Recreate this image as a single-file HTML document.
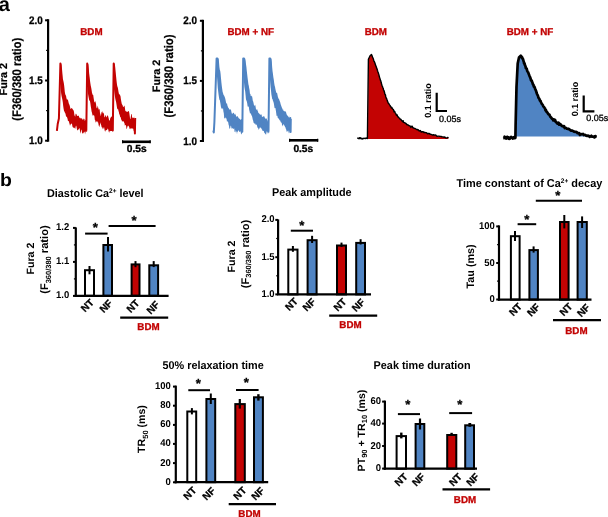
<!DOCTYPE html>
<html><head><meta charset="utf-8"><title>Figure</title>
<style>
html,body{margin:0;padding:0;background:#fff;}
body{width:608px;height:517px;overflow:hidden;}
svg{display:block;}
text{font-family:'Liberation Sans', Arial, sans-serif;text-rendering:geometricPrecision;}
</style></head><body>
<svg width="608" height="517" viewBox="0 0 608 517">
<rect width="608" height="517" fill="#fff"/>
<text x="-1.3" y="11.2" font-size="20" text-anchor="start" fill="#000" font-weight="bold">a</text>
<text transform="translate(-0.1,186) scale(1.08,1.0)" font-size="18" text-anchor="start" fill="#000" font-weight="bold">b</text>
<line x1="48.1" y1="19.2" x2="48.1" y2="141.7" stroke="#000" stroke-width="2.2" stroke-linecap="butt"/>
<line x1="45.1" y1="20.3" x2="48.1" y2="20.3" stroke="#000" stroke-width="2" stroke-linecap="butt"/>
<text transform="translate(42.7,23.8) scale(1.0,1.1)" font-size="9.9" text-anchor="end" fill="#000" font-weight="bold" stroke="#000" stroke-width="0.25">2.0</text>
<line x1="45.1" y1="80.5" x2="48.1" y2="80.5" stroke="#000" stroke-width="2" stroke-linecap="butt"/>
<text transform="translate(42.7,84.0) scale(1.0,1.1)" font-size="9.9" text-anchor="end" fill="#000" font-weight="bold" stroke="#000" stroke-width="0.25">1.5</text>
<line x1="45.1" y1="140.7" x2="48.1" y2="140.7" stroke="#000" stroke-width="2" stroke-linecap="butt"/>
<text transform="translate(42.7,144.2) scale(1.0,1.1)" font-size="9.9" text-anchor="end" fill="#000" font-weight="bold" stroke="#000" stroke-width="0.25">1.0</text>
<line x1="46.1" y1="50.4" x2="48.1" y2="50.4" stroke="#000" stroke-width="1.2" stroke-linecap="butt"/>
<line x1="46.1" y1="110.6" x2="48.1" y2="110.6" stroke="#000" stroke-width="1.2" stroke-linecap="butt"/>
<text transform="translate(4.2,79.2) rotate(-90)" font-size="10.8" text-anchor="middle" dominant-baseline="central" fill="#000" font-weight="bold" stroke="#000" stroke-width="0.2">Fura 2</text>
<text transform="translate(18.0,79.2) rotate(-90) scale(1,1.1)" font-size="11.3" text-anchor="middle" dominant-baseline="central" fill="#000" font-weight="bold" stroke="#000" stroke-width="0.2">(F360/380 ratio)</text>
<line x1="202.9" y1="19.8" x2="202.9" y2="142.0" stroke="#000" stroke-width="2.2" stroke-linecap="butt"/>
<line x1="199.9" y1="20.8" x2="202.9" y2="20.8" stroke="#000" stroke-width="2" stroke-linecap="butt"/>
<text transform="translate(197,24.3) scale(1.0,1.1)" font-size="9.9" text-anchor="end" fill="#000" font-weight="bold" stroke="#000" stroke-width="0.25">2.0</text>
<line x1="199.9" y1="80.9" x2="202.9" y2="80.9" stroke="#000" stroke-width="2" stroke-linecap="butt"/>
<text transform="translate(197,84.4) scale(1.0,1.1)" font-size="9.9" text-anchor="end" fill="#000" font-weight="bold" stroke="#000" stroke-width="0.25">1.5</text>
<line x1="199.9" y1="141.0" x2="202.9" y2="141.0" stroke="#000" stroke-width="2" stroke-linecap="butt"/>
<text transform="translate(197,144.5) scale(1.0,1.1)" font-size="9.9" text-anchor="end" fill="#000" font-weight="bold" stroke="#000" stroke-width="0.25">1.0</text>
<line x1="200.9" y1="50.85" x2="202.9" y2="50.85" stroke="#000" stroke-width="1.2" stroke-linecap="butt"/>
<line x1="200.9" y1="110.95" x2="202.9" y2="110.95" stroke="#000" stroke-width="1.2" stroke-linecap="butt"/>
<text transform="translate(157.2,76.0) rotate(-90)" font-size="10.8" text-anchor="middle" dominant-baseline="central" fill="#000" font-weight="bold" stroke="#000" stroke-width="0.2">Fura 2</text>
<text transform="translate(170.0,76.0) rotate(-90) scale(1,1.1)" font-size="11.3" text-anchor="middle" dominant-baseline="central" fill="#000" font-weight="bold" stroke="#000" stroke-width="0.2">(F360/380 ratio)</text>
<text x="91.45" y="34.7" font-size="9.8" text-anchor="middle" fill="#c30303" font-weight="bold" stroke="#c00000" stroke-width="0.3">BDM</text>
<text x="250.7" y="34.9" font-size="9.8" text-anchor="middle" fill="#c30303" font-weight="bold" stroke="#c00000" stroke-width="0.3">BDM + NF</text>
<text x="375.8" y="34.7" font-size="9.8" text-anchor="middle" fill="#c30303" font-weight="bold" stroke="#c00000" stroke-width="0.3">BDM</text>
<text x="530" y="34.7" font-size="9.8" text-anchor="middle" fill="#c30303" font-weight="bold" stroke="#c00000" stroke-width="0.3">BDM + NF</text>
<line x1="122" y1="141.8" x2="150.7" y2="141.8" stroke="#000" stroke-width="2.6" stroke-linecap="butt"/>
<line x1="122.6" y1="140.3" x2="122.6" y2="143.3" stroke="#000" stroke-width="1.2" stroke-linecap="butt"/>
<line x1="150.1" y1="140.3" x2="150.1" y2="143.3" stroke="#000" stroke-width="1.2" stroke-linecap="butt"/>
<line x1="289" y1="140.3" x2="318.2" y2="140.3" stroke="#000" stroke-width="2.6" stroke-linecap="butt"/>
<line x1="289.6" y1="138.8" x2="289.6" y2="141.8" stroke="#000" stroke-width="1.2" stroke-linecap="butt"/>
<line x1="317.59999999999997" y1="138.8" x2="317.59999999999997" y2="141.8" stroke="#000" stroke-width="1.2" stroke-linecap="butt"/>
<text x="136.7" y="151.5" font-size="10.2" text-anchor="middle" fill="#000" font-weight="bold" stroke="#000" stroke-width="0.35">0.5s</text>
<text x="303.3" y="151.5" font-size="10.2" text-anchor="middle" fill="#000" font-weight="bold" stroke="#000" stroke-width="0.35">0.5s</text>
<path d="M436.7 92.8 V111 H447" fill="none" stroke="#000" stroke-width="2.2"/>
<path d="M583.7 95.5 V111.3 H594.4" fill="none" stroke="#000" stroke-width="2.2"/>
<text transform="translate(427.6,100.5) rotate(-90)" font-size="9.0" text-anchor="middle" dominant-baseline="central" fill="#000" font-weight="bold">0.1 ratio</text>
<text transform="translate(575.3,99) rotate(-90)" font-size="9.0" text-anchor="middle" dominant-baseline="central" fill="#000" font-weight="bold">0.1 ratio</text>
<text x="450" y="121.5" font-size="9.0" text-anchor="middle" fill="#000" font-weight="normal" stroke="#000" stroke-width="0.3">0.05s</text>
<text x="597.2" y="121.3" font-size="9.0" text-anchor="middle" fill="#000" font-weight="normal" stroke="#000" stroke-width="0.3">0.05s</text>
<polygon points="60.40,63.60 60.80,63.60 61.20,63.60 61.60,64.98 62.00,68.92 62.40,73.49 62.80,78.45 63.20,80.28 63.60,81.93 64.00,84.22 64.40,87.76 64.80,91.91 65.20,93.97 65.60,95.23 66.00,95.45 66.40,98.10 66.80,99.33 67.20,100.22 67.60,98.64 68.00,100.06 68.40,101.83 68.80,103.42 69.20,104.25 69.60,105.24 70.00,106.86 70.40,108.53 70.80,109.23 71.20,108.08 71.60,108.45 72.00,107.86 72.40,109.68 72.80,108.61 73.20,110.21 73.60,110.25 74.00,112.00 74.40,114.92 74.80,115.89 75.20,116.76 75.60,113.67 76.00,113.85 76.40,114.05 76.80,115.29 77.20,116.09 77.60,115.95 78.00,115.54 78.40,115.94 78.80,115.49 79.20,117.87 79.60,117.28 80.00,118.61 80.40,117.40 80.80,118.67 81.20,117.88 81.60,118.78 82.00,118.13 82.40,119.67 82.80,119.52 83.20,119.85 83.60,118.44 84.00,118.66 84.40,119.01 84.80,120.93 85.20,120.17 85.60,120.32 86.00,119.59 86.00,134.47 85.60,132.79 85.20,130.94 84.80,131.83 84.40,132.09 84.00,133.92 83.60,132.35 83.20,132.86 82.80,133.56 82.40,133.55 82.00,132.57 81.60,129.57 81.20,130.11 80.80,132.30 80.40,133.64 80.00,130.63 79.60,128.39 79.20,128.10 78.80,129.95 78.40,129.05 78.00,129.63 77.60,129.88 77.20,130.73 76.80,128.42 76.40,126.22 76.00,125.52 75.60,126.98 75.20,128.90 74.80,128.21 74.40,128.10 74.00,127.15 73.60,128.06 73.20,127.48 72.80,127.36 72.40,126.25 72.00,124.12 71.60,123.44 71.20,123.69 70.80,124.07 70.40,124.93 70.00,125.78 69.60,124.05 69.20,122.63 68.80,120.70 68.40,121.14 68.00,121.29 67.60,119.05 67.20,117.70 66.80,116.62 66.40,116.89 66.00,116.29 65.60,114.28 65.20,113.12 64.80,112.62 64.40,111.54 64.00,110.75 63.60,108.84 63.20,105.94 62.80,102.26 62.40,99.75 62.00,98.09 61.60,96.25 61.20,93.71 60.80,90.08 60.40,85.00" fill="#c30303"/>
<polygon points="87.20,63.60 87.60,63.60 88.00,63.60 88.40,64.62 88.80,68.95 89.20,73.76 89.60,77.11 90.00,80.79 90.40,83.39 90.80,85.97 91.20,87.74 91.60,90.04 92.00,92.78 92.40,94.03 92.80,95.10 93.20,94.90 93.60,97.83 94.00,100.37 94.40,102.46 94.80,102.03 95.20,101.08 95.60,102.34 96.00,103.80 96.40,107.26 96.80,108.16 97.20,108.22 97.60,105.50 98.00,107.08 98.40,108.48 98.80,109.74 99.20,109.41 99.60,108.63 100.00,112.98 100.40,114.19 100.80,116.30 101.20,114.00 101.60,111.98 102.00,111.86 102.40,111.20 102.80,113.61 103.20,112.44 103.60,113.24 104.00,114.01 104.40,117.13 104.80,117.20 105.20,115.39 105.60,115.05 106.00,116.80 106.40,117.43 106.80,116.45 107.20,115.48 107.60,115.51 108.00,115.69 108.40,117.31 108.80,118.87 109.20,121.06 109.60,120.20 110.00,119.70 110.40,117.55 110.80,117.63 111.20,116.86 111.60,116.36 112.00,117.07 112.40,119.23 112.50,121.66 112.50,129.41 112.40,130.27 112.00,131.04 111.60,131.06 111.20,131.08 110.80,130.89 110.40,131.17 110.00,130.84 109.60,131.15 109.20,132.64 108.80,131.93 108.40,130.30 108.00,128.49 107.60,128.74 107.20,129.85 106.80,130.09 106.40,130.31 106.00,129.88 105.60,130.54 105.20,131.66 104.80,130.93 104.40,129.11 104.00,126.71 103.60,128.00 103.20,128.67 102.80,129.33 102.40,127.56 102.00,127.60 101.60,127.01 101.20,125.33 100.80,123.99 100.40,122.32 100.00,124.83 99.60,125.69 99.20,127.35 98.80,125.68 98.40,123.82 98.00,122.11 97.60,122.57 97.20,120.90 96.80,121.54 96.40,121.17 96.00,122.57 95.60,122.35 95.20,120.18 94.80,119.76 94.40,116.15 94.00,115.17 93.60,114.65 93.20,115.84 92.80,115.66 92.40,114.74 92.00,112.67 91.60,111.41 91.20,108.87 90.80,106.60 90.40,103.52 90.00,101.19 89.60,100.66 89.20,100.09 88.80,98.28 88.40,96.20 88.00,93.76 87.60,90.24 87.20,85.00" fill="#c30303"/>
<polygon points="113.70,63.60 114.10,63.60 114.50,63.60 114.90,64.84 115.30,68.01 115.70,73.05 116.10,76.47 116.50,80.46 116.90,83.97 117.30,86.37 117.70,87.33 118.10,89.21 118.50,91.85 118.90,93.71 119.30,94.52 119.70,94.35 120.10,95.18 120.50,96.28 120.90,99.25 121.30,101.48 121.70,103.41 122.10,104.69 122.50,104.87 122.90,106.51 123.30,106.86 123.70,106.99 124.10,106.01 124.50,105.42 124.90,107.93 125.30,110.70 125.70,111.07 126.10,111.74 126.50,111.02 126.90,112.15 127.30,111.42 127.70,111.92 128.10,111.27 128.50,111.33 128.90,111.03 129.30,113.12 129.70,115.77 130.10,119.07 130.50,118.75 130.90,116.17 131.30,114.09 131.70,113.89 132.10,116.91 132.50,117.87 132.90,118.24 133.30,117.65 133.70,117.82 134.10,117.33 134.20,115.45 134.20,131.12 134.10,131.39 133.70,130.93 133.30,128.64 132.90,128.59 132.50,128.91 132.10,128.12 131.70,128.95 131.30,127.91 130.90,128.43 130.50,128.33 130.10,129.23 129.70,129.03 129.30,127.56 128.90,126.44 128.50,126.07 128.10,125.49 127.70,125.96 127.30,126.90 126.90,128.66 126.50,128.93 126.10,126.02 125.70,125.03 125.30,124.94 124.90,125.67 124.50,123.24 124.10,122.56 123.70,121.53 123.30,121.20 122.90,121.31 122.50,121.10 122.10,122.10 121.70,120.23 121.30,119.68 120.90,118.18 120.50,116.80 120.10,116.93 119.70,114.51 119.30,114.51 118.90,112.33 118.50,110.91 118.10,109.35 117.70,108.47 117.30,109.70 116.90,107.06 116.50,104.62 116.10,101.94 115.70,100.47 115.30,98.73 114.90,96.26 114.50,93.54 114.10,89.88 113.70,85.00" fill="#c30303"/>
<polyline points="56.90,130.90 57.70,124.00 58.90,118.50 60.40,63.60 60.80,71.12 61.20,76.90 61.60,81.47 62.00,85.18 62.40,88.29 62.80,90.96 63.20,93.30 63.60,95.39 64.00,97.28 64.40,99.01 64.80,100.61 65.20,102.10 65.60,103.49 66.00,104.79 66.40,106.01 66.80,107.16 67.20,108.24 67.60,109.26 68.00,110.22 68.40,111.12 68.80,111.98 69.20,112.79 69.60,113.55 70.00,114.27 70.40,114.95 70.80,115.59 71.20,116.20 71.60,116.77 72.00,117.31 72.40,117.82 72.80,118.30 73.20,118.76 73.60,119.19 74.00,119.59 74.40,119.98 74.80,120.34 75.20,120.68 75.60,121.00 76.00,121.31 76.40,121.60 76.80,121.87 77.20,122.13 77.60,122.37 78.00,122.60 78.40,122.82 78.80,123.02 79.20,123.21 79.60,123.40 80.00,123.57 80.40,123.73 80.80,123.89 81.20,124.03 81.60,124.17 82.00,124.30 82.40,124.42 82.80,124.54 83.20,124.64 83.60,124.75 84.00,124.84 84.40,124.94 84.80,125.02 85.20,125.11 85.60,125.18 86.00,125.26 86.30,130.66 87.20,63.60 87.60,71.12 88.00,76.90 88.40,81.47 88.80,85.18 89.20,88.29 89.60,90.96 90.00,93.30 90.40,95.39 90.80,97.28 91.20,99.01 91.60,100.61 92.00,102.10 92.40,103.49 92.80,104.79 93.20,106.01 93.60,107.16 94.00,108.24 94.40,109.26 94.80,110.22 95.20,111.12 95.60,111.98 96.00,112.79 96.40,113.55 96.80,114.27 97.20,114.95 97.60,115.59 98.00,116.20 98.40,116.77 98.80,117.31 99.20,117.82 99.60,118.30 100.00,118.76 100.40,119.19 100.80,119.59 101.20,119.98 101.60,120.34 102.00,120.68 102.40,121.00 102.80,121.31 103.20,121.60 103.60,121.87 104.00,122.13 104.40,122.37 104.80,122.60 105.20,122.82 105.60,123.02 106.00,123.21 106.40,123.40 106.80,123.57 107.20,123.73 107.60,123.89 108.00,124.03 108.40,124.17 108.80,124.30 109.20,124.42 109.60,124.54 110.00,124.64 110.40,124.75 110.80,124.84 111.20,124.94 111.60,125.02 112.00,125.11 112.40,125.18 112.50,125.20 112.80,130.60 113.70,63.60 114.10,71.12 114.50,76.90 114.90,81.47 115.30,85.18 115.70,88.29 116.10,90.96 116.50,93.30 116.90,95.39 117.30,97.28 117.70,99.01 118.10,100.61 118.50,102.10 118.90,103.49 119.30,104.79 119.70,106.01 120.10,107.16 120.50,108.24 120.90,109.26 121.30,110.22 121.70,111.12 122.10,111.98 122.50,112.79 122.90,113.55 123.30,114.27 123.70,114.95 124.10,115.59 124.50,116.20 124.90,116.77 125.30,117.31 125.70,117.82 126.10,118.30 126.50,118.76 126.90,119.19 127.30,119.59 127.70,119.98 128.10,120.34 128.50,120.68 128.90,121.00 129.30,121.31 129.70,121.60 130.10,121.87 130.50,122.13 130.90,122.37 131.30,122.60 131.70,122.82 132.10,123.02 132.50,123.21 132.90,123.40 133.30,123.57 133.70,123.73 134.10,123.89 134.20,123.92 134.60,120.00 134.90,133.50 135.20,118.00" fill="none" stroke="#c30303" stroke-width="2" stroke-linejoin="round"/>
<polygon points="216.60,58.60 217.00,58.60 217.40,58.60 217.80,58.60 218.20,58.60 218.60,58.60 219.00,62.02 219.40,67.11 219.80,70.11 220.20,70.75 220.60,73.76 221.00,78.20 221.40,82.49 221.80,86.07 222.20,89.08 222.60,91.67 223.00,93.12 223.40,94.42 223.80,95.22 224.20,95.80 224.60,96.83 225.00,97.71 225.40,99.23 225.80,101.31 226.20,102.98 226.60,103.84 227.00,103.28 227.40,105.43 227.80,106.53 228.20,108.01 228.60,107.53 229.00,108.89 229.40,109.52 229.80,109.39 230.20,109.32 230.60,109.39 231.00,110.09 231.40,111.63 231.80,113.47 232.20,113.58 232.60,113.88 233.00,112.43 233.40,113.02 233.80,112.85 234.20,114.08 234.60,114.65 235.00,113.21 235.40,114.53 235.80,114.98 236.20,116.79 236.60,116.55 237.00,116.58 237.40,116.25 237.80,116.35 238.20,117.37 238.60,118.05 239.00,118.53 239.40,118.70 239.80,118.67 240.20,119.55 240.60,119.64 241.00,119.81 241.40,118.98 241.80,119.02 242.00,120.06 242.00,132.84 241.80,133.79 241.40,134.58 241.00,133.83 240.60,131.87 240.20,131.18 239.80,132.10 239.40,131.92 239.00,130.97 238.60,130.84 238.20,129.93 237.80,131.93 237.40,131.52 237.00,134.30 236.60,131.65 236.20,131.49 235.80,129.99 235.40,132.26 235.00,132.16 234.60,131.67 234.20,128.16 233.80,129.07 233.40,128.73 233.00,128.54 232.60,127.77 232.20,128.63 231.80,128.65 231.40,127.66 231.00,125.72 230.60,125.63 230.20,128.23 229.80,128.23 229.40,129.18 229.00,125.71 228.60,124.86 228.20,122.36 227.80,121.73 227.40,121.10 227.00,121.85 226.60,119.15 226.20,118.35 225.80,117.29 225.40,117.96 225.00,118.76 224.60,118.37 224.20,118.00 223.80,113.17 223.40,111.44 223.00,107.91 222.60,109.47 222.20,108.05 221.80,109.12 221.40,107.90 221.00,107.21 220.60,104.61 220.20,102.14 219.80,99.93 219.40,99.63 219.00,97.48 218.60,94.68 218.20,91.39 217.80,88.03 217.40,82.34 217.00,76.20 216.60,68.49" fill="#5084c3"/>
<polygon points="243.20,58.60 243.60,58.60 244.00,58.60 244.40,58.60 244.80,58.60 245.20,58.60 245.60,60.85 246.00,64.23 246.40,67.08 246.80,71.12 247.20,74.57 247.60,78.00 248.00,80.97 248.40,84.17 248.80,85.74 249.20,88.26 249.60,90.27 250.00,94.01 250.40,93.65 250.80,96.32 251.20,95.62 251.60,96.41 252.00,96.05 252.40,97.98 252.80,100.63 253.20,101.59 253.60,103.37 254.00,105.14 254.40,105.99 254.80,105.32 255.20,104.83 255.60,106.73 256.00,109.14 256.40,109.88 256.80,109.18 257.20,109.18 257.60,110.78 258.00,111.56 258.40,113.11 258.80,113.07 259.20,114.32 259.60,113.33 260.00,114.63 260.40,114.87 260.80,114.61 261.20,114.58 261.60,114.59 262.00,116.89 262.40,116.72 262.80,116.87 263.20,116.48 263.60,116.26 264.00,116.37 264.40,116.51 264.80,117.76 265.20,118.67 265.60,118.80 266.00,117.95 266.40,118.53 266.80,118.99 267.20,120.31 267.60,120.32 268.00,121.90 268.20,122.86 268.20,133.40 268.00,133.98 267.60,132.56 267.20,131.47 266.80,131.37 266.40,132.64 266.00,135.15 265.60,133.71 265.20,134.05 264.80,132.98 264.40,133.18 264.00,131.50 263.60,130.86 263.20,131.05 262.80,130.68 262.40,130.74 262.00,129.24 261.60,129.19 261.20,127.98 260.80,127.54 260.40,127.89 260.00,127.11 259.60,128.29 259.20,128.63 258.80,130.10 258.40,128.64 258.00,127.98 257.60,127.82 257.20,126.52 256.80,125.01 256.40,124.48 256.00,124.64 255.60,124.79 255.20,123.43 254.80,123.50 254.40,123.70 254.00,122.95 253.60,122.70 253.20,120.76 252.80,119.84 252.40,117.80 252.00,116.37 251.60,115.40 251.20,114.55 250.80,113.98 250.40,112.84 250.00,113.52 249.60,111.59 249.20,109.98 248.80,106.78 248.40,106.60 248.00,106.79 247.60,106.26 247.20,103.31 246.80,101.51 246.40,100.44 246.00,99.56 245.60,95.49 245.20,91.55 244.80,89.49 244.40,87.06 244.00,82.50 243.60,76.00 243.20,68.49" fill="#5084c3"/>
<polygon points="269.40,58.60 269.80,58.60 270.20,58.60 270.60,58.60 271.00,58.60 271.40,58.60 271.80,61.78 272.20,67.44 272.60,71.75 273.00,74.60 273.40,77.48 273.80,79.72 274.20,83.07 274.60,85.60 275.00,86.67 275.40,88.93 275.80,90.75 276.20,92.41 276.60,92.88 277.00,92.60 277.40,94.61 277.80,96.39 278.20,97.87 278.60,98.69 279.00,98.90 279.40,100.31 279.80,101.33 280.20,102.14 280.60,104.01 281.00,105.30 281.40,106.31 281.80,107.41 282.20,107.88 282.60,109.89 283.00,108.87 283.40,111.00 283.80,110.59 284.20,111.38 284.60,111.18 285.00,111.02 285.40,111.42 285.80,111.75 286.20,112.84 286.60,114.38 287.00,114.71 287.40,115.65 287.80,115.81 288.20,116.58 288.60,116.72 289.00,117.76 289.40,118.23 289.80,117.03 290.00,114.85 290.00,129.96 289.80,131.08 289.40,132.38 289.00,133.40 288.60,132.34 288.20,130.58 287.80,130.79 287.40,131.30 287.00,132.18 286.60,131.32 286.20,129.38 285.80,128.79 285.40,127.29 285.00,127.07 284.60,125.48 284.20,125.54 283.80,125.32 283.40,123.68 283.00,124.83 282.60,125.61 282.20,126.62 281.80,123.15 281.40,122.54 281.00,122.55 280.60,121.83 280.20,120.57 279.80,120.34 279.40,120.24 279.00,118.41 278.60,118.84 278.20,118.16 277.80,117.97 277.40,115.93 277.00,115.40 276.60,116.13 276.20,112.99 275.80,110.32 275.40,108.02 275.00,108.06 274.60,108.15 274.20,105.64 273.80,103.20 273.40,101.82 273.00,100.89 272.60,99.34 272.20,99.11 271.80,96.84 271.40,94.50 271.00,90.50 270.60,86.97 270.20,82.48 269.80,76.05 269.40,68.49" fill="#5084c3"/>
<polyline points="213.30,130.60 213.80,132.50 214.40,122.00 216.60,58.60 217.00,58.60 217.40,58.60 217.80,64.56 218.20,70.86 218.60,75.83 219.00,79.86 219.40,83.23 219.80,86.12 220.20,88.66 220.60,90.93 221.00,93.00 221.40,94.90 221.80,96.66 222.20,98.31 222.60,99.86 223.00,101.32 223.40,102.69 223.80,103.99 224.20,105.23 224.60,106.39 225.00,107.50 225.40,108.56 225.80,109.55 226.20,110.50 226.60,111.40 227.00,112.26 227.40,113.07 227.80,113.84 228.20,114.57 228.60,115.27 229.00,115.93 229.40,116.56 229.80,117.16 230.20,117.72 230.60,118.26 231.00,118.77 231.40,119.26 231.80,119.72 232.20,120.16 232.60,120.58 233.00,120.97 233.40,121.35 233.80,121.71 234.20,122.05 234.60,122.37 235.00,122.68 235.40,122.97 235.80,123.24 236.20,123.51 236.60,123.76 237.00,123.99 237.40,124.22 237.80,124.43 238.20,124.64 238.60,124.83 239.00,125.01 239.40,125.19 239.80,125.35 240.20,125.51 240.60,125.66 241.00,125.80 241.40,125.94 241.80,126.06 242.00,126.13 242.30,131.80 243.20,58.60 243.60,58.60 244.00,58.60 244.40,64.56 244.80,70.86 245.20,75.83 245.60,79.86 246.00,83.23 246.40,86.12 246.80,88.66 247.20,90.93 247.60,93.00 248.00,94.90 248.40,96.66 248.80,98.31 249.20,99.86 249.60,101.32 250.00,102.69 250.40,103.99 250.80,105.23 251.20,106.39 251.60,107.50 252.00,108.56 252.40,109.55 252.80,110.50 253.20,111.40 253.60,112.26 254.00,113.07 254.40,113.84 254.80,114.57 255.20,115.27 255.60,115.93 256.00,116.56 256.40,117.16 256.80,117.72 257.20,118.26 257.60,118.77 258.00,119.26 258.40,119.72 258.80,120.16 259.20,120.58 259.60,120.97 260.00,121.35 260.40,121.71 260.80,122.05 261.20,122.37 261.60,122.68 262.00,122.97 262.40,123.24 262.80,123.51 263.20,123.76 263.60,123.99 264.00,124.22 264.40,124.43 264.80,124.64 265.20,124.83 265.60,125.01 266.00,125.19 266.40,125.35 266.80,125.51 267.20,125.66 267.60,125.80 268.00,125.94 268.20,126.00 268.50,131.67 269.40,58.60 269.80,58.60 270.20,58.60 270.60,64.56 271.00,70.86 271.40,75.83 271.80,79.86 272.20,83.23 272.60,86.12 273.00,88.66 273.40,90.93 273.80,93.00 274.20,94.90 274.60,96.66 275.00,98.31 275.40,99.86 275.80,101.32 276.20,102.69 276.60,103.99 277.00,105.23 277.40,106.39 277.80,107.50 278.20,108.56 278.60,109.55 279.00,110.50 279.40,111.40 279.80,112.26 280.20,113.07 280.60,113.84 281.00,114.57 281.40,115.27 281.80,115.93 282.20,116.56 282.60,117.16 283.00,117.72 283.40,118.26 283.80,118.77 284.20,119.26 284.60,119.72 285.00,120.16 285.40,120.58 285.80,120.97 286.20,121.35 286.60,121.71 287.00,122.05 287.40,122.37 287.80,122.68 288.20,122.97 288.60,123.24 289.00,123.51 289.40,123.76 289.80,123.99 290.00,124.11 290.30,118.00 290.60,132.00 290.80,119.00" fill="none" stroke="#5084c3" stroke-width="2" stroke-linejoin="round"/>
<polygon points="368.40,59.30 370.20,55.50 371.50,54.43 371.76,55.49 372.09,55.56 372.49,57.22 372.93,57.89 373.41,59.08 373.90,61.10 374.40,61.78 374.90,63.00 375.37,64.54 375.80,65.89 376.21,66.68 376.61,68.10 377.00,68.79 377.39,70.24 377.78,71.47 378.16,72.42 378.54,73.62 378.93,74.84 379.31,76.57 379.70,77.84 380.09,79.02 380.47,80.39 380.85,81.13 381.23,82.79 381.61,84.13 381.99,85.54 382.38,86.21 382.78,87.60 383.18,88.26 383.60,90.02 384.03,90.69 384.47,92.26 384.93,94.47 385.38,94.64 385.85,97.01 386.32,98.14 386.79,99.16 387.26,100.62 387.73,101.76 388.20,102.97 388.66,103.43 389.11,104.12 389.56,104.85 390.01,105.39 390.46,106.35 390.92,106.70 391.39,107.96 391.88,107.56 392.38,108.49 392.90,109.27 393.45,109.65 394.02,111.88 394.60,111.23 395.21,112.85 395.82,113.64 396.44,115.27 397.06,114.84 397.68,116.72 398.29,116.85 398.90,117.75 399.50,118.20 400.10,119.25 400.70,119.17 401.30,120.06 401.91,120.69 402.51,121.68 403.11,120.64 403.71,122.46 404.30,122.69 404.90,122.63 405.49,123.35 406.07,123.50 406.65,124.66 407.22,124.56 407.79,124.80 408.37,125.18 408.96,125.56 409.56,125.93 410.17,126.04 410.80,127.42 411.45,126.37 412.12,126.10 412.80,127.63 413.49,127.92 414.19,128.39 414.89,128.48 415.60,128.78 416.30,129.24 417.01,129.75 417.70,129.54 418.39,129.87 419.06,130.98 419.74,130.79 420.41,130.57 421.09,132.03 421.77,131.78 422.46,131.59 423.16,131.67 423.87,132.45 424.60,132.31 425.35,132.47 426.12,132.60 426.90,133.09 427.69,133.85 428.49,133.50 429.29,133.34 430.10,134.26 430.90,134.24 431.71,134.70 432.50,135.02 433.29,134.74 434.08,134.95 434.87,135.19 435.66,135.02 436.45,135.85 437.24,136.30 438.03,136.08 438.82,136.14 439.61,136.32 440.40,136.33 441.23,136.51 442.11,136.85 443.02,136.89 443.94,137.23 444.84,137.02 445.71,137.88 446.51,137.94 447.23,137.67 447.83,137.40 448.30,138.30 448.30,139.00 368.00,139.00" fill="#c30303"/>
<polyline points="357.20,138.50 357.80,138.09 358.40,138.10 359.00,138.73 359.60,137.70 360.20,138.45 360.80,137.71 361.40,138.89 362.00,138.57 362.60,138.97 363.20,138.32 363.80,138.64 364.40,138.40 365.00,138.24 365.60,138.55 366.20,138.06 366.80,138.38 367.40,138.60 368.40,59.30 370.20,55.50 371.50,54.43 371.76,55.49 372.09,55.56 372.49,57.22 372.93,57.89 373.41,59.08 373.90,61.10 374.40,61.78 374.90,63.00 375.37,64.54 375.80,65.89 376.21,66.68 376.61,68.10 377.00,68.79 377.39,70.24 377.78,71.47 378.16,72.42 378.54,73.62 378.93,74.84 379.31,76.57 379.70,77.84 380.09,79.02 380.47,80.39 380.85,81.13 381.23,82.79 381.61,84.13 381.99,85.54 382.38,86.21 382.78,87.60 383.18,88.26 383.60,90.02 384.03,90.69 384.47,92.26 384.93,94.47 385.38,94.64 385.85,97.01 386.32,98.14 386.79,99.16 387.26,100.62 387.73,101.76 388.20,102.97 388.66,103.43 389.11,104.12 389.56,104.85 390.01,105.39 390.46,106.35 390.92,106.70 391.39,107.96 391.88,107.56 392.38,108.49 392.90,109.27 393.45,109.65 394.02,111.88 394.60,111.23 395.21,112.85 395.82,113.64 396.44,115.27 397.06,114.84 397.68,116.72 398.29,116.85 398.90,117.75 399.50,118.20 400.10,119.25 400.70,119.17 401.30,120.06 401.91,120.69 402.51,121.68 403.11,120.64 403.71,122.46 404.30,122.69 404.90,122.63 405.49,123.35 406.07,123.50 406.65,124.66 407.22,124.56 407.79,124.80 408.37,125.18 408.96,125.56 409.56,125.93 410.17,126.04 410.80,127.42 411.45,126.37 412.12,126.10 412.80,127.63 413.49,127.92 414.19,128.39 414.89,128.48 415.60,128.78 416.30,129.24 417.01,129.75 417.70,129.54 418.39,129.87 419.06,130.98 419.74,130.79 420.41,130.57 421.09,132.03 421.77,131.78 422.46,131.59 423.16,131.67 423.87,132.45 424.60,132.31 425.35,132.47 426.12,132.60 426.90,133.09 427.69,133.85 428.49,133.50 429.29,133.34 430.10,134.26 430.90,134.24 431.71,134.70 432.50,135.02 433.29,134.74 434.08,134.95 434.87,135.19 435.66,135.02 436.45,135.85 437.24,136.30 438.03,136.08 438.82,136.14 439.61,136.32 440.40,136.33 441.23,136.51 442.11,136.85 443.02,136.89 443.94,137.23 444.84,137.02 445.71,137.88 446.51,137.94 447.23,137.67 447.83,137.40 448.30,138.30" fill="none" stroke="#000" stroke-width="1.4" stroke-linejoin="round"/>
<polygon points="515.60,125.40 516.50,86.70 517.70,63.50 519.00,57.50 520.80,55.62 520.93,56.03 521.09,55.87 521.29,56.54 521.51,57.14 521.74,57.29 521.99,58.23 522.25,57.57 522.51,58.48 522.76,58.65 523.00,59.15 523.23,59.98 523.45,60.76 523.66,61.47 523.88,62.16 524.10,63.62 524.33,63.73 524.59,63.38 524.86,64.98 525.16,65.45 525.50,66.37 525.87,68.12 526.28,68.42 526.72,68.69 527.18,70.79 527.66,71.64 528.15,72.37 528.65,73.63 529.14,74.90 529.63,76.29 530.10,77.21 530.57,78.51 531.04,80.38 531.51,80.28 531.98,81.35 532.45,82.68 532.92,84.37 533.39,84.63 533.86,86.68 534.33,86.53 534.80,87.74 535.26,89.27 535.71,90.00 536.16,91.22 536.60,92.81 537.04,94.04 537.49,94.87 537.95,95.78 538.42,97.59 538.90,98.24 539.40,98.99 539.92,100.68 540.47,100.77 541.03,102.29 541.60,103.54 542.18,104.24 542.76,104.98 543.34,106.37 543.91,106.90 544.46,107.77 545.00,108.44 545.51,110.30 546.01,110.23 546.49,111.73 546.96,112.09 547.43,112.48 547.90,113.55 548.38,114.02 548.87,114.59 549.37,114.54 549.90,115.83 550.44,116.84 551.00,117.29 551.56,118.14 552.14,118.97 552.72,119.08 553.32,120.38 553.92,119.38 554.54,120.52 555.16,120.04 555.80,122.07 556.45,122.25 557.12,123.47 557.80,123.02 558.49,122.74 559.19,124.68 559.89,123.94 560.60,124.40 561.30,125.31 562.01,126.08 562.70,125.97 563.39,126.67 564.06,126.11 564.74,128.09 565.41,127.63 566.09,128.05 566.77,128.59 567.46,128.72 568.16,129.05 568.87,128.86 569.60,129.55 570.35,130.12 571.12,130.70 571.90,130.49 572.69,130.90 573.49,131.31 574.29,131.72 575.10,131.85 575.90,131.93 576.71,132.10 577.50,133.11 578.29,133.00 579.08,133.14 579.87,134.96 580.66,134.04 581.45,134.28 582.24,134.20 583.03,133.91 583.82,135.10 584.61,134.76 585.40,135.02 586.21,135.66 587.07,135.84 587.94,135.68 588.82,135.76 589.69,136.86 590.53,136.33 591.33,135.75 592.07,136.67 592.73,136.50 593.30,136.51 593.78,136.85 594.19,136.66 594.53,137.44 594.81,136.59 595.04,136.56 595.24,136.91 595.40,136.07 595.55,136.73 595.68,136.20 595.80,136.73 595.80,136.40 516.00,136.40" fill="#5084c3"/>
<polyline points="503.60,137.80 504.10,138.10 504.60,136.73 505.10,137.33 505.60,137.84 506.10,138.68 506.60,137.80 507.10,136.80 507.60,137.99 508.10,137.08 508.60,138.54 509.10,137.65 509.60,138.87 510.10,137.72 510.60,137.18 511.10,136.92 511.60,137.58 512.10,138.07 512.60,138.51 513.10,137.96 513.60,137.36 514.10,138.10 514.60,136.94 515.10,138.10 515.40,137.80 515.60,125.40 516.50,86.70 517.70,63.50 519.00,57.50 520.80,55.62 520.93,56.03 521.09,55.87 521.29,56.54 521.51,57.14 521.74,57.29 521.99,58.23 522.25,57.57 522.51,58.48 522.76,58.65 523.00,59.15 523.23,59.98 523.45,60.76 523.66,61.47 523.88,62.16 524.10,63.62 524.33,63.73 524.59,63.38 524.86,64.98 525.16,65.45 525.50,66.37 525.87,68.12 526.28,68.42 526.72,68.69 527.18,70.79 527.66,71.64 528.15,72.37 528.65,73.63 529.14,74.90 529.63,76.29 530.10,77.21 530.57,78.51 531.04,80.38 531.51,80.28 531.98,81.35 532.45,82.68 532.92,84.37 533.39,84.63 533.86,86.68 534.33,86.53 534.80,87.74 535.26,89.27 535.71,90.00 536.16,91.22 536.60,92.81 537.04,94.04 537.49,94.87 537.95,95.78 538.42,97.59 538.90,98.24 539.40,98.99 539.92,100.68 540.47,100.77 541.03,102.29 541.60,103.54 542.18,104.24 542.76,104.98 543.34,106.37 543.91,106.90 544.46,107.77 545.00,108.44 545.51,110.30 546.01,110.23 546.49,111.73 546.96,112.09 547.43,112.48 547.90,113.55 548.38,114.02 548.87,114.59 549.37,114.54 549.90,115.83 550.44,116.84 551.00,117.29 551.56,118.14 552.14,118.97 552.72,119.08 553.32,120.38 553.92,119.38 554.54,120.52 555.16,120.04 555.80,122.07 556.45,122.25 557.12,123.47 557.80,123.02 558.49,122.74 559.19,124.68 559.89,123.94 560.60,124.40 561.30,125.31 562.01,126.08 562.70,125.97 563.39,126.67 564.06,126.11 564.74,128.09 565.41,127.63 566.09,128.05 566.77,128.59 567.46,128.72 568.16,129.05 568.87,128.86 569.60,129.55 570.35,130.12 571.12,130.70 571.90,130.49 572.69,130.90 573.49,131.31 574.29,131.72 575.10,131.85 575.90,131.93 576.71,132.10 577.50,133.11 578.29,133.00 579.08,133.14 579.87,134.96 580.66,134.04 581.45,134.28 582.24,134.20 583.03,133.91 583.82,135.10 584.61,134.76 585.40,135.02 586.21,135.66 587.07,135.84 587.94,135.68 588.82,135.76 589.69,136.86 590.53,136.33 591.33,135.75 592.07,136.67 592.73,136.50 593.30,136.51 593.78,136.85 594.19,136.66 594.53,137.44 594.81,136.59 595.04,136.56 595.24,136.91 595.40,136.07 595.55,136.73 595.68,136.20 595.80,136.73" fill="none" stroke="#000" stroke-width="2.7" stroke-linejoin="round"/>
<text transform="translate(47,196.6) scale(1.0,1.04)" font-size="10.85" text-anchor="start" fill="#000" font-weight="bold">Diastolic Ca<tspan font-size='6.5' dy='-3.8'>2+</tspan><tspan dy='3.8'> level</tspan></text>
<line x1="75.8" y1="227.4" x2="75.8" y2="296.8" stroke="#000" stroke-width="2.2" stroke-linecap="butt"/>
<line x1="73.0" y1="227.9" x2="75.8" y2="227.9" stroke="#000" stroke-width="2" stroke-linecap="butt"/>
<text transform="translate(69.2,230.4) scale(1.0,1.04)" font-size="9.5" text-anchor="end" fill="#000" font-weight="bold">1.2</text>
<line x1="73.0" y1="261.9" x2="75.8" y2="261.9" stroke="#000" stroke-width="2" stroke-linecap="butt"/>
<text transform="translate(69.2,264.4) scale(1.0,1.04)" font-size="9.5" text-anchor="end" fill="#000" font-weight="bold">1.1</text>
<line x1="73.0" y1="295.9" x2="75.8" y2="295.9" stroke="#000" stroke-width="2" stroke-linecap="butt"/>
<text transform="translate(69.2,298.4) scale(1.0,1.04)" font-size="9.5" text-anchor="end" fill="#000" font-weight="bold">1.0</text>
<line x1="73.89999999999999" y1="244.9" x2="75.8" y2="244.9" stroke="#000" stroke-width="1.2" stroke-linecap="butt"/>
<line x1="73.89999999999999" y1="278.9" x2="75.8" y2="278.9" stroke="#000" stroke-width="1.2" stroke-linecap="butt"/>
<rect x="85.00" y="270.20" width="9.00" height="25.60" fill="#fff" stroke="#000" stroke-width="2"/>
<rect x="103.40" y="245.00" width="8.60" height="50.80" fill="#5084c3" stroke="#000" stroke-width="2"/>
<rect x="131.60" y="264.40" width="7.90" height="31.40" fill="#c30303" stroke="#000" stroke-width="2"/>
<rect x="149.30" y="265.30" width="8.80" height="30.50" fill="#5084c3" stroke="#000" stroke-width="2"/>
<line x1="89.5" y1="266" x2="89.5" y2="274.3" stroke="#000" stroke-width="2" stroke-linecap="butt"/>
<line x1="108" y1="237.1" x2="108" y2="251.5" stroke="#000" stroke-width="2" stroke-linecap="butt"/>
<line x1="135.5" y1="261.1" x2="135.5" y2="267.2" stroke="#000" stroke-width="2" stroke-linecap="butt"/>
<line x1="153.7" y1="261.1" x2="153.7" y2="267.1" stroke="#000" stroke-width="2" stroke-linecap="butt"/>
<line x1="74.7" y1="295.8" x2="168.6" y2="295.8" stroke="#000" stroke-width="2.2" stroke-linecap="butt"/>
<line x1="85.1" y1="233.6" x2="107.6" y2="233.6" stroke="#000" stroke-width="2" stroke-linecap="butt"/>
<text x="95.3" y="231.84" font-size="13.2" text-anchor="middle" fill="#000" font-weight="bold" stroke="#000" stroke-width="0.25">*</text>
<line x1="108.6" y1="226" x2="155.6" y2="226" stroke="#000" stroke-width="2" stroke-linecap="butt"/>
<text x="134" y="224.64000000000001" font-size="13.2" text-anchor="middle" fill="#000" font-weight="bold" stroke="#000" stroke-width="0.25">*</text>
<text transform="translate(88.0,306.0) rotate(-45)" font-size="10" text-anchor="middle" dominant-baseline="central" fill="#000" font-weight="bold" stroke="#000" stroke-width="0.3">NT</text>
<text transform="translate(106.6,306.8) rotate(-45)" font-size="10" text-anchor="middle" dominant-baseline="central" fill="#000" font-weight="bold" stroke="#000" stroke-width="0.3">NF</text>
<text transform="translate(133.6,306.7) rotate(-45)" font-size="10" text-anchor="middle" dominant-baseline="central" fill="#000" font-weight="bold" stroke="#000" stroke-width="0.3">NT</text>
<text transform="translate(153.7,308.2) rotate(-45)" font-size="10" text-anchor="middle" dominant-baseline="central" fill="#000" font-weight="bold" stroke="#000" stroke-width="0.3">NF</text>
<line x1="120.2" y1="317.7" x2="168.2" y2="317.7" stroke="#000" stroke-width="2.2" stroke-linecap="butt"/>
<text x="148.5" y="330.2" font-size="9.8" text-anchor="middle" fill="#c30303" font-weight="bold" stroke="#c00000" stroke-width="0.3">BDM</text>
<text transform="translate(31,258.6) rotate(-90)" font-size="10.6" text-anchor="middle" dominant-baseline="central" fill="#000" font-weight="bold">Fura 2</text>
<text transform="translate(45,259.6) rotate(-90)" font-size="11.1" text-anchor="middle" dominant-baseline="central" fill="#000" font-weight="bold">(F<tspan font-size='7.5' dy='2.5'>360/380</tspan><tspan dy='-2.5'> ratio)</tspan></text>
<text transform="translate(272.0,196.4) scale(1.0,1.04)" font-size="10.85" text-anchor="start" fill="#000" font-weight="bold">Peak amplitude</text>
<line x1="278.1" y1="219.4" x2="278.1" y2="295" stroke="#000" stroke-width="2.2" stroke-linecap="butt"/>
<line x1="275.3" y1="219.9" x2="278.1" y2="219.9" stroke="#000" stroke-width="2" stroke-linecap="butt"/>
<text transform="translate(274.6,222.4) scale(1.0,1.04)" font-size="9.5" text-anchor="end" fill="#000" font-weight="bold">2.0</text>
<line x1="275.3" y1="257.2" x2="278.1" y2="257.2" stroke="#000" stroke-width="2" stroke-linecap="butt"/>
<text transform="translate(274.6,259.7) scale(1.0,1.04)" font-size="9.5" text-anchor="end" fill="#000" font-weight="bold">1.5</text>
<line x1="275.3" y1="294.4" x2="278.1" y2="294.4" stroke="#000" stroke-width="2" stroke-linecap="butt"/>
<text transform="translate(274.6,296.9) scale(1.0,1.04)" font-size="9.5" text-anchor="end" fill="#000" font-weight="bold">1.0</text>
<line x1="276.20000000000005" y1="238.5" x2="278.1" y2="238.5" stroke="#000" stroke-width="1.2" stroke-linecap="butt"/>
<line x1="276.20000000000005" y1="275.8" x2="278.1" y2="275.8" stroke="#000" stroke-width="1.2" stroke-linecap="butt"/>
<rect x="288.30" y="249.60" width="9.20" height="44.80" fill="#fff" stroke="#000" stroke-width="2"/>
<rect x="307.60" y="240.20" width="9.00" height="54.20" fill="#5084c3" stroke="#000" stroke-width="2"/>
<rect x="337.00" y="245.50" width="9.00" height="48.90" fill="#c30303" stroke="#000" stroke-width="2"/>
<rect x="356.20" y="242.90" width="8.80" height="51.50" fill="#5084c3" stroke="#000" stroke-width="2"/>
<line x1="292.9" y1="246" x2="292.9" y2="251.8" stroke="#000" stroke-width="2" stroke-linecap="butt"/>
<line x1="312.1" y1="235.8" x2="312.1" y2="243" stroke="#000" stroke-width="2" stroke-linecap="butt"/>
<line x1="341.5" y1="242.6" x2="341.5" y2="247" stroke="#000" stroke-width="2" stroke-linecap="butt"/>
<line x1="360.6" y1="239.2" x2="360.6" y2="244.5" stroke="#000" stroke-width="2" stroke-linecap="butt"/>
<line x1="277.0" y1="294.4" x2="371" y2="294.4" stroke="#000" stroke-width="2.2" stroke-linecap="butt"/>
<line x1="290.8" y1="230.7" x2="313" y2="230.7" stroke="#000" stroke-width="2" stroke-linecap="butt"/>
<text x="301.8" y="229.74" font-size="13.2" text-anchor="middle" fill="#000" font-weight="bold" stroke="#000" stroke-width="0.25">*</text>
<text transform="translate(292.1,304.8) rotate(-45)" font-size="10" text-anchor="middle" dominant-baseline="central" fill="#000" font-weight="bold" stroke="#000" stroke-width="0.3">NT</text>
<text transform="translate(309.8,305.3) rotate(-45)" font-size="10" text-anchor="middle" dominant-baseline="central" fill="#000" font-weight="bold" stroke="#000" stroke-width="0.3">NF</text>
<text transform="translate(340.7,305.3) rotate(-45)" font-size="10" text-anchor="middle" dominant-baseline="central" fill="#000" font-weight="bold" stroke="#000" stroke-width="0.3">NT</text>
<text transform="translate(359.0,305.8) rotate(-45)" font-size="10" text-anchor="middle" dominant-baseline="central" fill="#000" font-weight="bold" stroke="#000" stroke-width="0.3">NF</text>
<line x1="329.2" y1="315.6" x2="377.2" y2="315.6" stroke="#000" stroke-width="2.2" stroke-linecap="butt"/>
<text x="350.5" y="328.4" font-size="9.8" text-anchor="middle" fill="#c30303" font-weight="bold" stroke="#c00000" stroke-width="0.3">BDM</text>
<text transform="translate(232,256.5) rotate(-90)" font-size="10.6" text-anchor="middle" dominant-baseline="central" fill="#000" font-weight="bold">Fura 2</text>
<text transform="translate(245.5,254) rotate(-90)" font-size="11.1" text-anchor="middle" dominant-baseline="central" fill="#000" font-weight="bold">(F<tspan font-size='7.5' dy='2.5'>360/380</tspan><tspan dy='-2.5'> ratio)</tspan></text>
<text transform="translate(456.5,187.3) scale(1.0,1.04)" font-size="10.95" text-anchor="start" fill="#000" font-weight="bold">Time constant of Ca<tspan font-size='6.5' dy='-3.8'>2+</tspan><tspan dy='3.8'> decay</tspan></text>
<line x1="499.0" y1="225.4" x2="499.0" y2="300.6" stroke="#000" stroke-width="2.2" stroke-linecap="butt"/>
<line x1="496.2" y1="226.4" x2="499.0" y2="226.4" stroke="#000" stroke-width="2" stroke-linecap="butt"/>
<text transform="translate(494.8,228.9) scale(1.0,1.04)" font-size="9.5" text-anchor="end" fill="#000" font-weight="bold">100</text>
<line x1="496.2" y1="263" x2="499.0" y2="263" stroke="#000" stroke-width="2" stroke-linecap="butt"/>
<text transform="translate(494.8,265.5) scale(1.0,1.04)" font-size="9.5" text-anchor="end" fill="#000" font-weight="bold">50</text>
<line x1="496.2" y1="299.5" x2="499.0" y2="299.5" stroke="#000" stroke-width="2" stroke-linecap="butt"/>
<text transform="translate(494.8,302.0) scale(1.0,1.04)" font-size="9.5" text-anchor="end" fill="#000" font-weight="bold">0</text>
<line x1="497.1" y1="244.7" x2="499.0" y2="244.7" stroke="#000" stroke-width="1.2" stroke-linecap="butt"/>
<line x1="497.1" y1="281.2" x2="499.0" y2="281.2" stroke="#000" stroke-width="1.2" stroke-linecap="butt"/>
<rect x="510.90" y="236.20" width="8.70" height="63.40" fill="#fff" stroke="#000" stroke-width="2"/>
<rect x="529.40" y="250.10" width="8.50" height="49.50" fill="#5084c3" stroke="#000" stroke-width="2"/>
<rect x="560.00" y="222.00" width="8.60" height="77.60" fill="#c30303" stroke="#000" stroke-width="2"/>
<rect x="577.60" y="222.00" width="9.20" height="77.60" fill="#5084c3" stroke="#000" stroke-width="2"/>
<line x1="515" y1="230.9" x2="515" y2="241" stroke="#000" stroke-width="2" stroke-linecap="butt"/>
<line x1="533.6" y1="246.4" x2="533.6" y2="252.6" stroke="#000" stroke-width="2" stroke-linecap="butt"/>
<line x1="564.3" y1="215" x2="564.3" y2="228.4" stroke="#000" stroke-width="2" stroke-linecap="butt"/>
<line x1="582.1" y1="216.4" x2="582.1" y2="228" stroke="#000" stroke-width="2" stroke-linecap="butt"/>
<line x1="497.9" y1="299.6" x2="591.5" y2="299.6" stroke="#000" stroke-width="2.2" stroke-linecap="butt"/>
<line x1="517.6" y1="224.2" x2="536.2" y2="224.2" stroke="#000" stroke-width="2" stroke-linecap="butt"/>
<text x="526.8" y="223.74" font-size="13.2" text-anchor="middle" fill="#000" font-weight="bold" stroke="#000" stroke-width="0.25">*</text>
<line x1="535.8" y1="200.7" x2="582" y2="200.7" stroke="#000" stroke-width="2" stroke-linecap="butt"/>
<text x="557.8" y="199.74" font-size="13.2" text-anchor="middle" fill="#000" font-weight="bold" stroke="#000" stroke-width="0.25">*</text>
<text transform="translate(516.2,310.0) rotate(-45)" font-size="10" text-anchor="middle" dominant-baseline="central" fill="#000" font-weight="bold" stroke="#000" stroke-width="0.3">NT</text>
<text transform="translate(534.2,310.5) rotate(-45)" font-size="10" text-anchor="middle" dominant-baseline="central" fill="#000" font-weight="bold" stroke="#000" stroke-width="0.3">NF</text>
<text transform="translate(566.7,310.0) rotate(-45)" font-size="10" text-anchor="middle" dominant-baseline="central" fill="#000" font-weight="bold" stroke="#000" stroke-width="0.3">NT</text>
<text transform="translate(584.2,311.0) rotate(-45)" font-size="10" text-anchor="middle" dominant-baseline="central" fill="#000" font-weight="bold" stroke="#000" stroke-width="0.3">NF</text>
<line x1="553" y1="320.2" x2="601" y2="320.2" stroke="#000" stroke-width="2.2" stroke-linecap="butt"/>
<text x="576.4" y="333.7" font-size="9.8" text-anchor="middle" fill="#c30303" font-weight="bold" stroke="#c00000" stroke-width="0.3">BDM</text>
<text transform="translate(471,266.4) rotate(-90)" font-size="10.8" text-anchor="middle" dominant-baseline="central" fill="#000" font-weight="bold">Tau (ms)</text>
<text transform="translate(162.5,368.8) scale(1.0,1.04)" font-size="10.85" text-anchor="start" fill="#000" font-weight="bold">50% relaxation time</text>
<line x1="175.8" y1="385.6" x2="175.8" y2="483.3" stroke="#000" stroke-width="2.2" stroke-linecap="butt"/>
<line x1="173.0" y1="386.6" x2="175.8" y2="386.6" stroke="#000" stroke-width="2" stroke-linecap="butt"/>
<text transform="translate(170.8,389.1) scale(1.0,1.04)" font-size="9.5" text-anchor="end" fill="#000" font-weight="bold">100</text>
<line x1="173.0" y1="405.7" x2="175.8" y2="405.7" stroke="#000" stroke-width="2" stroke-linecap="butt"/>
<text transform="translate(170.8,408.2) scale(1.0,1.04)" font-size="9.5" text-anchor="end" fill="#000" font-weight="bold">80</text>
<line x1="173.0" y1="424.9" x2="175.8" y2="424.9" stroke="#000" stroke-width="2" stroke-linecap="butt"/>
<text transform="translate(170.8,427.4) scale(1.0,1.04)" font-size="9.5" text-anchor="end" fill="#000" font-weight="bold">60</text>
<line x1="173.0" y1="443.9" x2="175.8" y2="443.9" stroke="#000" stroke-width="2" stroke-linecap="butt"/>
<text transform="translate(170.8,446.4) scale(1.0,1.04)" font-size="9.5" text-anchor="end" fill="#000" font-weight="bold">40</text>
<line x1="173.0" y1="463.1" x2="175.8" y2="463.1" stroke="#000" stroke-width="2" stroke-linecap="butt"/>
<text transform="translate(170.8,465.6) scale(1.0,1.04)" font-size="9.5" text-anchor="end" fill="#000" font-weight="bold">20</text>
<line x1="173.0" y1="482.3" x2="175.8" y2="482.3" stroke="#000" stroke-width="2" stroke-linecap="butt"/>
<text transform="translate(170.8,484.8) scale(1.0,1.04)" font-size="9.5" text-anchor="end" fill="#000" font-weight="bold">0</text>
<rect x="187.30" y="411.50" width="8.90" height="70.70" fill="#fff" stroke="#000" stroke-width="2"/>
<rect x="206.40" y="399.00" width="8.80" height="83.20" fill="#5084c3" stroke="#000" stroke-width="2"/>
<rect x="235.30" y="404.10" width="9.50" height="78.10" fill="#c30303" stroke="#000" stroke-width="2"/>
<rect x="254.00" y="397.30" width="8.90" height="84.90" fill="#5084c3" stroke="#000" stroke-width="2"/>
<line x1="191.9" y1="408.1" x2="191.9" y2="414.4" stroke="#000" stroke-width="2" stroke-linecap="butt"/>
<line x1="210.8" y1="393.5" x2="210.8" y2="404" stroke="#000" stroke-width="2" stroke-linecap="butt"/>
<line x1="239.8" y1="399" x2="239.8" y2="408.6" stroke="#000" stroke-width="2.2" stroke-linecap="butt"/>
<line x1="258.4" y1="394.2" x2="258.4" y2="400.6" stroke="#000" stroke-width="2.4" stroke-linecap="butt"/>
<line x1="174.70000000000002" y1="482.2" x2="268.2" y2="482.2" stroke="#000" stroke-width="2.2" stroke-linecap="butt"/>
<line x1="188.3" y1="390.2" x2="210" y2="390.2" stroke="#000" stroke-width="2" stroke-linecap="butt"/>
<text x="198.2" y="387.84000000000003" font-size="13.2" text-anchor="middle" fill="#000" font-weight="bold" stroke="#000" stroke-width="0.25">*</text>
<line x1="236" y1="390" x2="258.6" y2="390" stroke="#000" stroke-width="2" stroke-linecap="butt"/>
<text x="246.3" y="387.04" font-size="13.2" text-anchor="middle" fill="#000" font-weight="bold" stroke="#000" stroke-width="0.25">*</text>
<text transform="translate(190.5,493.9) rotate(-45)" font-size="10" text-anchor="middle" dominant-baseline="central" fill="#000" font-weight="bold" stroke="#000" stroke-width="0.3">NT</text>
<text transform="translate(209.5,494.3) rotate(-45)" font-size="10" text-anchor="middle" dominant-baseline="central" fill="#000" font-weight="bold" stroke="#000" stroke-width="0.3">NF</text>
<text transform="translate(240.5,493.9) rotate(-45)" font-size="10" text-anchor="middle" dominant-baseline="central" fill="#000" font-weight="bold" stroke="#000" stroke-width="0.3">NT</text>
<text transform="translate(258.5,494.3) rotate(-45)" font-size="10" text-anchor="middle" dominant-baseline="central" fill="#000" font-weight="bold" stroke="#000" stroke-width="0.3">NF</text>
<line x1="228.7" y1="504.2" x2="276" y2="504.2" stroke="#000" stroke-width="2.2" stroke-linecap="butt"/>
<text x="249.5" y="517" font-size="9.8" text-anchor="middle" fill="#c30303" font-weight="bold" stroke="#c00000" stroke-width="0.3">BDM</text>
<text transform="translate(142.2,429) rotate(-90)" font-size="10.6" text-anchor="middle" dominant-baseline="central" fill="#000" font-weight="bold">TR<tspan font-size='7.5' dy='2.5'>50</tspan><tspan dy='-2.5'> (ms)</tspan></text>
<text transform="translate(373.6,368.9) scale(1.0,1.04)" font-size="10.85" text-anchor="start" fill="#000" font-weight="bold">Peak time duration</text>
<line x1="384.9" y1="400.6" x2="384.9" y2="469.7" stroke="#000" stroke-width="2.2" stroke-linecap="butt"/>
<line x1="382.09999999999997" y1="401.6" x2="384.9" y2="401.6" stroke="#000" stroke-width="2" stroke-linecap="butt"/>
<text transform="translate(381,404.1) scale(1.0,1.04)" font-size="9.5" text-anchor="end" fill="#000" font-weight="bold">60</text>
<line x1="382.09999999999997" y1="423.6" x2="384.9" y2="423.6" stroke="#000" stroke-width="2" stroke-linecap="butt"/>
<text transform="translate(381,426.1) scale(1.0,1.04)" font-size="9.5" text-anchor="end" fill="#000" font-weight="bold">40</text>
<line x1="382.09999999999997" y1="446" x2="384.9" y2="446" stroke="#000" stroke-width="2" stroke-linecap="butt"/>
<text transform="translate(381,448.5) scale(1.0,1.04)" font-size="9.5" text-anchor="end" fill="#000" font-weight="bold">20</text>
<line x1="382.09999999999997" y1="468.6" x2="384.9" y2="468.6" stroke="#000" stroke-width="2" stroke-linecap="butt"/>
<text transform="translate(381,471.1) scale(1.0,1.04)" font-size="9.5" text-anchor="end" fill="#000" font-weight="bold">0</text>
<rect x="396.60" y="436.10" width="9.40" height="32.60" fill="#fff" stroke="#000" stroke-width="2"/>
<rect x="415.60" y="424.00" width="8.70" height="44.70" fill="#5084c3" stroke="#000" stroke-width="2"/>
<rect x="447.20" y="435.00" width="9.10" height="33.70" fill="#c30303" stroke="#000" stroke-width="2"/>
<rect x="465.20" y="425.30" width="8.80" height="43.40" fill="#5084c3" stroke="#000" stroke-width="2"/>
<line x1="401.3" y1="432.6" x2="401.3" y2="438.4" stroke="#000" stroke-width="2.4" stroke-linecap="butt"/>
<line x1="420" y1="418.5" x2="420" y2="429.5" stroke="#000" stroke-width="2.2" stroke-linecap="butt"/>
<line x1="451.6" y1="432.8" x2="451.6" y2="435.5" stroke="#000" stroke-width="2.4" stroke-linecap="butt"/>
<line x1="469.8" y1="423.0" x2="469.8" y2="426.8" stroke="#000" stroke-width="2.8" stroke-linecap="butt"/>
<line x1="383.79999999999995" y1="468.7" x2="477" y2="468.7" stroke="#000" stroke-width="2.2" stroke-linecap="butt"/>
<line x1="397.9" y1="414.1" x2="420" y2="414.1" stroke="#000" stroke-width="2" stroke-linecap="butt"/>
<text x="407.8" y="408.74" font-size="13.2" text-anchor="middle" fill="#000" font-weight="bold" stroke="#000" stroke-width="0.25">*</text>
<line x1="449.2" y1="413.1" x2="472.1" y2="413.1" stroke="#000" stroke-width="2" stroke-linecap="butt"/>
<text x="459.8" y="408.74" font-size="13.2" text-anchor="middle" fill="#000" font-weight="bold" stroke="#000" stroke-width="0.25">*</text>
<text transform="translate(401.8,480.3) rotate(-45)" font-size="10" text-anchor="middle" dominant-baseline="central" fill="#000" font-weight="bold" stroke="#000" stroke-width="0.3">NT</text>
<text transform="translate(419.2,480.3) rotate(-45)" font-size="10" text-anchor="middle" dominant-baseline="central" fill="#000" font-weight="bold" stroke="#000" stroke-width="0.3">NF</text>
<text transform="translate(456.2,480.3) rotate(-45)" font-size="10" text-anchor="middle" dominant-baseline="central" fill="#000" font-weight="bold" stroke="#000" stroke-width="0.3">NT</text>
<text transform="translate(473.4,480.3) rotate(-45)" font-size="10" text-anchor="middle" dominant-baseline="central" fill="#000" font-weight="bold" stroke="#000" stroke-width="0.3">NF</text>
<line x1="442.5" y1="489.3" x2="490.1" y2="489.3" stroke="#000" stroke-width="2.2" stroke-linecap="butt"/>
<text x="465" y="503" font-size="9.8" text-anchor="middle" fill="#c30303" font-weight="bold" stroke="#c00000" stroke-width="0.3">BDM</text>
<text transform="translate(361.8,430.5) rotate(-90)" font-size="10.6" text-anchor="middle" dominant-baseline="central" fill="#000" font-weight="bold">PT<tspan font-size='7.5' dy='2.5'>90</tspan><tspan dy='-2.5'> + TR</tspan><tspan font-size='7.5' dy='2.5'>10</tspan><tspan dy='-2.5'> (ms)</tspan></text>
</svg>
</body></html>
